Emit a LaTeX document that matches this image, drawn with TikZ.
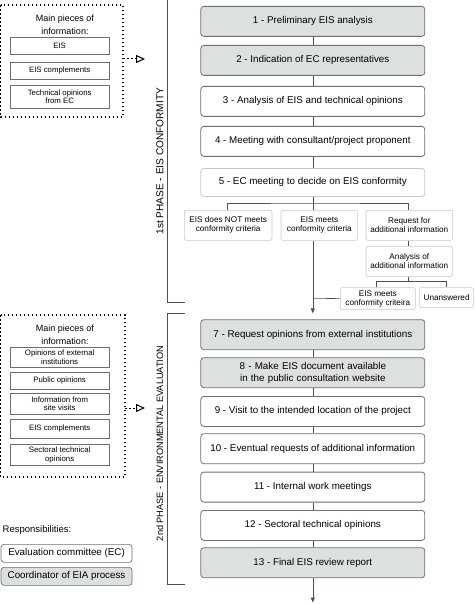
\documentclass[tikz,border=0pt]{standalone}
\usepackage{fontspec}
\setmainfont{Liberation Sans}
\usetikzlibrary{arrows.meta}
\definecolor{boxgray}{HTML}{DCE0DE}
\definecolor{edgedark}{HTML}{707070}
\definecolor{edgelight}{HTML}{C8C8C8}
\definecolor{linec}{HTML}{505050}
\tikzset{
  stepbox/.style={draw=edgedark, line width=0.8pt, rounded corners=3pt, fill=white, minimum width=224pt, minimum height=30pt, align=center, font=\fontsize{9.8}{11.7}\selectfont, inner sep=1pt, anchor=north},
  coordbox/.style={stepbox, fill=boxgray},
  lightbox/.style={stepbox, draw=edgelight},
  branchbox/.style={draw=edgelight, line width=0.6pt, rounded corners=2pt, fill=white, minimum height=30pt, align=center, font=\fontsize{8.2}{8.9}\selectfont, inner sep=1pt, anchor=north west},
  infobox/.style={draw=edgedark, line width=0.6pt, fill=white, minimum width=98.7pt, align=center, font=\fontsize{7.8}{8.7}\selectfont, inner sep=1pt, anchor=north west},
  dotbox/.style={draw=black, line width=1.1pt, dash pattern=on 1.6pt off 2.4pt},
  conn/.style={draw=linec, line width=0.6pt},
  bracket/.style={draw=linec, line width=0.6pt},
  legendbox/.style={draw=edgedark, line width=0.7pt, rounded corners=3pt, minimum width=131pt, minimum height=18pt, anchor=north west, font=\fontsize{9.8}{11}\selectfont, inner sep=1pt},
  phaselabel/.style={rotate=90, font=\fontsize{9.2}{10}\selectfont},
  infohead/.style={align=center, font=\fontsize{9}{12.7}\selectfont},
}
\begin{document}
\begin{tikzpicture}[x=1pt,y=-1pt]
\useasboundingbox (0,0) rectangle (474,604);
% ---------------- Phase 1 main column
\node[coordbox] (s1) at (312.8,6) {1 - Preliminary EIS analysis};
\node[coordbox] (s2) at (312.8,45) {2 - Indication of EC representatives};
\node[stepbox] (s3) at (312.8,86) {3 - Analysis of EIS and technical opinions};
\node[stepbox] (s4) at (312.8,126) {4 - Meeting with consultant/project proponent};
\node[lightbox, minimum height=28pt] (s5) at (312.8,168) {5 - EC meeting to decide on EIS conformity};
\draw[conn] (s1) -- (s2);
\draw[conn] (s2) -- (s3);
\draw[conn] (s3) -- (s4);
\draw[conn] (s4) -- (s5);
% branches
\node[branchbox, minimum width=87.7pt] (ba) at (184,210) {EIS does NOT meets\\conformity criteria};
\node[branchbox, minimum width=76.6pt] (bb) at (280.7,210) {EIS meets\\conformity criteria};
\node[branchbox, minimum width=86.6pt] (bc) at (365.7,210) {Request for\\additional information};
\node[branchbox, minimum width=86.6pt] (bd) at (365.7,246) {Analysis of\\additional information};
\node[branchbox, minimum width=75pt, minimum height=22pt] (be) at (340,287.3) {EIS meets\\conformity criteira};
\node[branchbox, minimum width=54pt, minimum height=20pt] (bf) at (419.3,287.3) {Unanswered};
\coordinate (j5) at (312.8,203);
\draw[conn] (s5.south) -- (j5);
\draw[conn] (ba.north -| 227.7,0) |- (j5) -| (bc.north -| 408.3,0);
\draw[conn] (j5) -- (bb.north -| j5);
\draw[conn] (bc.south -| 408.3,0) -- (bd.north -| 408.3,0);
\coordinate (jd) at (408.3,281.7);
\draw[conn] (bd.south -| 408.3,0) -- (jd);
\draw[conn] (be.north -| 376,0) |- (jd) -| (bf.north -| 446.7,0);
\coordinate (jm) at (312.8,298.3);
\draw[conn] (be.west) -- (jm);
% ---------------- Phase 2 main column
\node[coordbox] (s7) at (312.8,319.3) {7 - Request opinions from external institutions};
\node[coordbox, text width=220pt] (s8) at (312.8,357.3) {8 - Make EIS document available\\in the public consultation website};
\node[stepbox] (s9) at (312.8,396) {9 - Visit to the intended location of the project};
\node[stepbox] (s10) at (312.8,433.3) {10 - Eventual requests of additional information};
\node[stepbox] (s11) at (312.8,471.7) {11 - Internal work meetings};
\node[stepbox] (s12) at (312.8,510) {12 - Sectoral technical opinions};
\node[coordbox] (s13) at (312.8,547.3) {13 - Final EIS review report};
\draw[conn, shorten >=6pt, -{Triangle[length=5pt,width=4pt]}] (bb.south -| j5) -- (s7.north);
\draw[conn] (s7) -- (s8);
\draw[conn] (s8) -- (s9);
\draw[conn] (s9) -- (s10);
\draw[conn] (s10) -- (s11);
\draw[conn] (s11) -- (s12);
\draw[conn] (s12) -- (s13);
\coordinate (endp) at (312.8,602.5);
\draw[conn, -{Triangle[length=5pt,width=4pt]}] (s13.south) -- (endp);
% ---------------- brackets and phase labels
\draw[bracket] (185,-1) -- (167,-1) -- (167,302) -- (185,302);
\draw[bracket] (185,313) -- (167,313) -- (167,584) -- (185,584);
\node[phaselabel, font=\fontsize{10.1}{11}\selectfont] (p1) at (159.8,161.2) {1st PHASE - EIS CONFORMITY};
\node[phaselabel] (p2) at (159.8,443.4) {2nd PHASE - ENVIRONMENTAL EVALUATION};
% ---------------- info box 1
\draw[dotbox] (0.7,5) rectangle (123,117);
\node[infohead] (h1) at (65,24.5) {Main pieces of\\information:};
\node[infobox, minimum height=17pt] (i11) at (10,37) {EIS};
\node[infobox, minimum height=17pt] (i12) at (10,62) {EIS complements};
\node[infobox, minimum height=23pt] (i13) at (10,85) {Technical opinions\\from EC};
\coordinate (d1s) at (123,59);
\coordinate (d1e) at (145,59);
\draw[dotbox, line width=1pt, -{Triangle[open,length=9pt,width=8pt,line width=1pt]}] (d1s) -- (d1e);
% ---------------- info box 2
\draw[dotbox] (0.7,315) rectangle (125,477);
\node[infohead] (h2) at (65,335) {Main pieces of\\information:};
\node[infobox, minimum height=20pt] (i21) at (10,347) {Opinions of external\\institutions};
\node[infobox, minimum height=17pt] (i22) at (10,372) {Public opinions};
\node[infobox, minimum height=21pt] (i23) at (10,393) {Information from\\site visits};
\node[infobox, minimum height=19pt] (i24) at (10,419) {EIS complements};
\node[infobox, minimum height=21pt] (i25) at (10,444) {Sectoral technical\\opinions};
\coordinate (d2s) at (125,408);
\coordinate (d2e) at (145,408);
\draw[dotbox, line width=1pt, -{Triangle[open,length=9pt,width=8pt,line width=1pt]}] (d2s) -- (d2e);
% ---------------- legend
\node[anchor=west, font=\fontsize{9.5}{10}\selectfont, inner sep=0pt] (resp) at (2.5,530) {Responsibilities:};
\node[legendbox, fill=white] (l1) at (0.7,544) {Evaluation committee (EC)};
\node[legendbox, fill=boxgray] (l2) at (0.7,567) {Coordinator of EIA process};
\end{tikzpicture}
\end{document}
